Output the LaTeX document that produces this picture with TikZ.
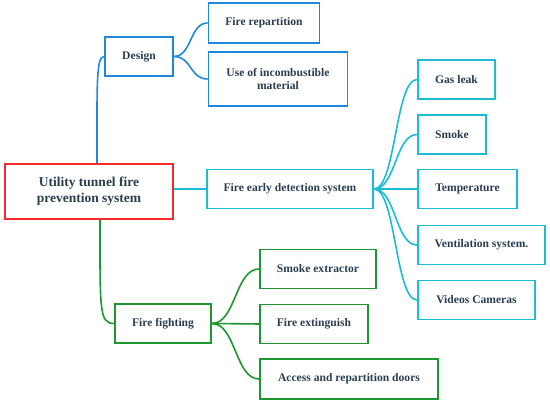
\documentclass[tikz,border=0pt]{standalone}
\usepackage{fontspec}
\setmainfont{Liberation Serif}
\definecolor{txt}{HTML}{2B3E50}
\definecolor{cblue}{HTML}{1E88DC}
\definecolor{ccyan}{HTML}{1CBCD6}
\definecolor{cgreen}{HTML}{1E9632}
\definecolor{cred}{HTML}{F52A2A}
\begin{document}
\begin{tikzpicture}[x=1pt,y=-1pt,
  box/.style={draw, line width=1.8pt, inner sep=0pt, align=center, text=txt, font=\bfseries\fontsize{11.6}{13.5}\selectfont},
  bluebox/.style={box, draw=cblue},
  cyanbox/.style={box, draw=ccyan},
  greenbox/.style={box, draw=cgreen},
  link/.style={line width=1.6pt}]
\useasboundingbox (0,0) rectangle (550,406);
\node[box, draw=cred, minimum width=168pt, minimum height=55pt, font=\bfseries\fontsize{13.5}{16}\selectfont] (main) at (89,191.5) {Utility tunnel fire\\prevention system};
\node[bluebox, minimum width=68pt, minimum height=39pt] (design) at (139,56.5) {Design};
\node[bluebox, minimum width=111pt, minimum height=40pt] (rep) at (264,23) {Fire repartition};
\node[bluebox, minimum width=139pt, minimum height=54pt] (inc) at (278,79) {Use of incombustible\\material};
\node[cyanbox, minimum width=166pt, minimum height=39pt] (det) at (290,189) {Fire early detection system};
\node[cyanbox, minimum width=77pt, minimum height=39pt] (gas) at (456.5,79.5) {Gas leak};
\node[cyanbox, minimum width=68pt, minimum height=39pt] (smoke) at (452,134.5) {Smoke};
\node[cyanbox, minimum width=99pt, minimum height=39pt] (temp) at (467.5,189) {Temperature};
\node[cyanbox, minimum width=127pt, minimum height=39pt] (vent) at (481.5,245) {Ventilation system.};
\node[cyanbox, minimum width=117pt, minimum height=39pt] (cam) at (476.5,300) {Videos Cameras};
\node[greenbox, minimum width=96pt, minimum height=39pt] (fight) at (163,323.5) {Fire fighting};
\node[greenbox, minimum width=116pt, minimum height=39pt] (ext) at (318,269) {Smoke extractor};
\node[greenbox, minimum width=108pt, minimum height=39pt] (ext2) at (314,324) {Fire extinguish};
\node[greenbox, minimum width=178pt, minimum height=40pt] (door) at (349,379) {Access and repartition doors};
% main links
\draw[link, cblue] ([xshift=8pt]main.north) .. controls +(0,-80) and +(-8,0) .. (design.west);
\draw[link, ccyan] (main.east |- det.west) -- (det.west);
\draw[link, cgreen] ([xshift=11pt]main.south) .. controls +(0,90) and +(-15,0) .. (fight.west);
% design children
\draw[link, cblue] (design.east) .. controls +(18,0) and +(-18,0) .. (rep.west);
\draw[link, cblue] (design.east) .. controls +(18,0) and +(-18,0) .. (inc.west);
% detection children
\foreach \t in {gas,smoke,temp,vent,cam}
  \draw[link, ccyan] (det.east) .. controls +(22,0) and +(-22,0) .. (\t.west);
% fighting children
\foreach \t in {ext,ext2,door}
  \draw[link, cgreen] (fight.east) .. controls +(24,0) and +(-24,0) .. (\t.west);
\end{tikzpicture}
\end{document}
